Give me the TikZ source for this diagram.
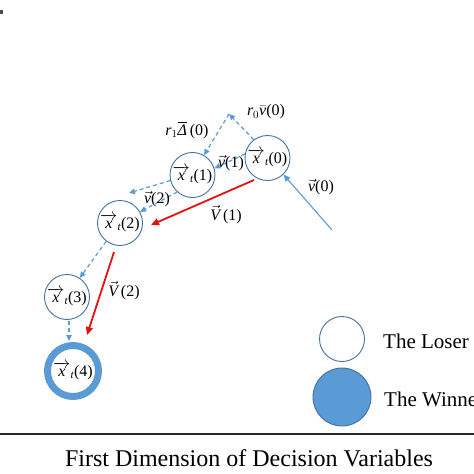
\documentclass[tikz,border=0pt]{standalone}
\usepackage{amsmath}
\usepackage{fontspec}
\setmainfont{Liberation Serif}
\usetikzlibrary{arrows.meta}
\definecolor{lblue}{RGB}{91,155,213}
\definecolor{cblue}{RGB}{65,113,156}
\definecolor{ared}{RGB}{226,18,18}
\newcommand{\itx}[1]{\text{\itshape #1}}
\newcommand{\xlab}[1]{$\overrightarrow{\itx{x}}_{\itx{t}}\text{(#1)}$}
\begin{document}
\begin{tikzpicture}[x=1pt,y=-1pt,
  loser/.style={circle,draw=cblue,line width=0.9pt,minimum size=45pt,inner sep=0pt,font=\fontsize{16}{18}\selectfont},
  winner/.style={circle,draw=lblue,line width=7pt,minimum size=51pt,inner sep=0pt,font=\fontsize{16}{18}\selectfont},
  legwin/.style={circle,draw=cblue,fill=lblue,line width=0.9pt,minimum size=58pt,inner sep=0pt},
  lab/.style={inner sep=0pt,font=\fontsize{16}{18}\selectfont},
  dashblue/.style={draw=lblue,line width=1.2pt,dash pattern=on 4pt off 3pt,-{Triangle[length=6pt,width=5.5pt]}},
  solidblue/.style={draw=lblue,line width=1.1pt,-{Triangle[length=7pt,width=6pt]}},
  redarrow/.style={draw=ared,line width=1.8pt,-{Triangle[length=8pt,width=7pt]}},
  legtext/.style={anchor=west,inner sep=0pt,font=\fontsize{21}{24}\selectfont}
]
\clip (0,0) rectangle (474,474);
\fill[black!70] (0,10) rectangle (2.5,14);

% particles
\node[loser] (x0) at (267.5,158) {\xlab{0}};
\node[loser] (x1) at (192.5,175) {\xlab{1}};
\node[loser] (x2) at (120,223) {\xlab{2}};
\node[loser] (x3) at (67,297) {\xlab{3}};
\node[winner] (x4) at (73,371) {\xlab{4}};

% free points
\coordinate (v0s) at (332,230);
\coordinate (peak) at (229,114);
\coordinate (p1) at (129,193);
\coordinate (r1s) at (254,180);
\coordinate (r1e) at (151,225);
\coordinate (r2s) at (114,252);
\coordinate (r2e) at (87,335);
\coordinate (d3s) at (69,321);
\coordinate (d3e) at (69,341);

% connectors
\draw[solidblue] (v0s) -- (x0.-46);
\draw[dashblue] (x0.127) -- (peak);
\draw[dashblue] (peak) -- (x1.60);
\draw[dashblue] (x0.170) -- (x1.17);
\draw[dashblue] (x1.194) -- (p1);
\draw[dashblue] (x1.228) -- (x2.29);
\draw[dashblue] (x2.233) -- (x3.56);
\draw[dashblue] (d3s) -- (d3e);
\draw[redarrow] (r1s) -- (r1e);
\draw[redarrow] (r2s) -- (r2e);

% labels
\node[lab] (lv0) at (321,187) {$\vec{\itx{v}}\text{(0)}$};
\node[lab] (lr0) at (266,112) {$\itx{r}_0\bar{\itx{v}}\text{(0)}$};
\node[lab] (lr1) at (187,130) {$\itx{r}_1\overline{\itx{Δ}}\,\text{(0)}$};
\node[lab] (lv1) at (231,163) {$\vec{\itx{v}}\text{(1)}$};
\node[lab] (lv2) at (157,199) {$\vec{\itx{v}}\text{(2)}$};
\node[lab] (lV1) at (226,215) {$\vec{\itx{V}}\,\text{(1)}$};
\node[lab] (lV2) at (124,291) {$\vec{\itx{V}}\,\text{(2)}$};

% legend
\node[loser] (legl) at (342,339) {};
\node[legwin] (legw) at (342,397) {};
\node[legtext] (tl) at (383,341) {The Loser};
\node[legtext] (tw) at (384,399) {The Winner};

% axis
\coordinate (axl) at (0,434);
\coordinate (axr) at (474,434);
\draw[line width=1.6pt,black!85] (axl) -- (axr);
\node[inner sep=0pt,font=\fontsize{24}{28}\selectfont] (axlab) at (249,458) {First Dimension of Decision Variables};
\end{tikzpicture}
\end{document}
